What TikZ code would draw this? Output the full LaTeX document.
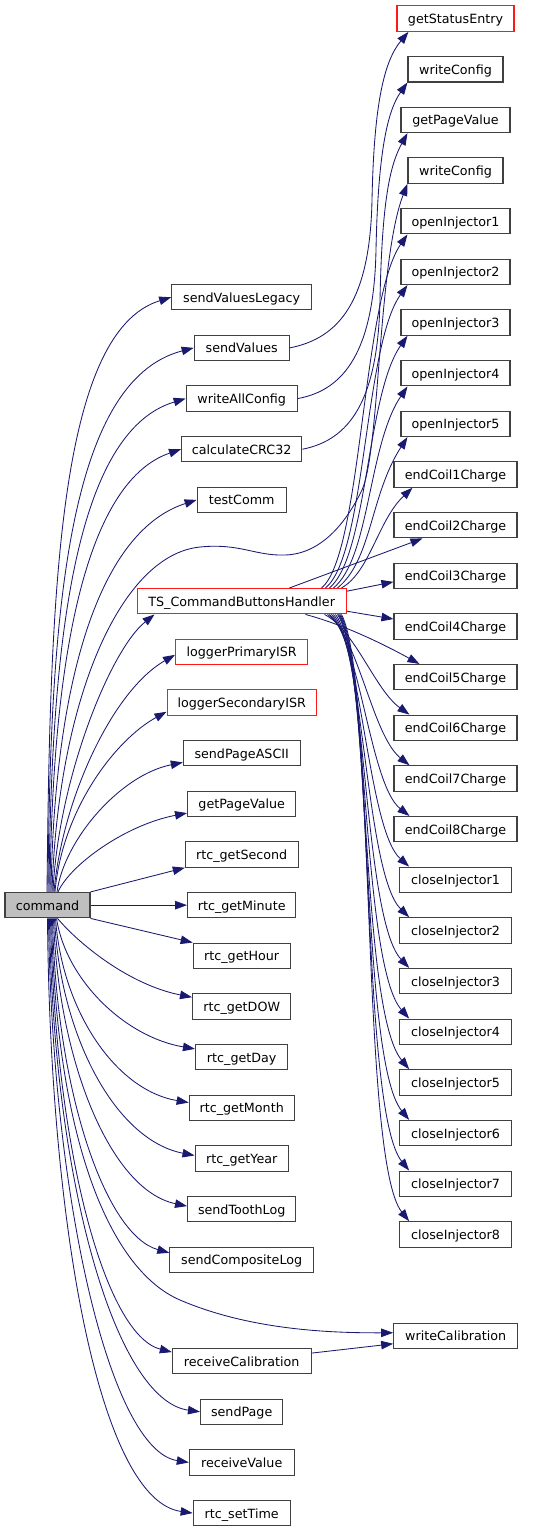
\documentclass[tikz,border=0pt]{standalone}
\usepackage{fontspec}
\setmainfont{DejaVu Sans}
\usetikzlibrary{arrows.meta}
\definecolor{navy}{HTML}{191970}
\definecolor{bdr}{HTML}{404040}
\definecolor{rootfill}{HTML}{BFBFBF}
\begin{document}
\begin{tikzpicture}[x=1pt,y=-1pt,
  fn/.style={draw=bdr, line width=1.1pt, fill=white, minimum height=25.4pt, inner sep=0pt,
    text height=12pt, text depth=2pt, font=\fontsize{12.7}{15}\selectfont},
  rn/.style={fn, draw=red!90!white},
  ed/.style={navy, line width=0.85pt, -{Triangle[length=12pt,width=8.5pt]}}]
\useasboundingbox (0,0) rectangle (533,1532);
% root
\node[fn, minimum width=85pt, fill=rootfill] (cmd) at (47.5,905.15) {command};
% right column
\node[rn, minimum width=117pt] (gse) at (455.5,18.6) {getStatusEntry};
\node[fn, minimum width=95pt] (wc1) at (455.5,69.26) {writeConfig};
\node[fn, minimum width=109pt] (gpvR) at (455.5,119.92) {getPageValue};
\node[fn, minimum width=95pt] (wc2) at (455.5,170.58) {writeConfig};
\node[fn, minimum width=109pt] (oi1) at (455.5,221.24) {openInjector1};
\node[fn, minimum width=109pt] (oi2) at (455.5,271.9) {openInjector2};
\node[fn, minimum width=109pt] (oi3) at (455.5,322.56) {openInjector3};
\node[fn, minimum width=109pt] (oi4) at (455.5,373.22) {openInjector4};
\node[fn, minimum width=109pt] (oi5) at (455.5,423.88) {openInjector5};
\node[fn, minimum width=123pt] (ec1) at (455.5,474.54) {endCoil1Charge};
\node[fn, minimum width=123pt] (ec2) at (455.5,525.2) {endCoil2Charge};
\node[fn, minimum width=123pt] (ec3) at (455.5,575.86) {endCoil3Charge};
\node[fn, minimum width=123pt] (ec4) at (455.5,626.52) {endCoil4Charge};
\node[fn, minimum width=123pt] (ec5) at (455.5,677.18) {endCoil5Charge};
\node[fn, minimum width=123pt] (ec6) at (455.5,727.84) {endCoil6Charge};
\node[fn, minimum width=123pt] (ec7) at (455.5,778.5) {endCoil7Charge};
\node[fn, minimum width=123pt] (ec8) at (455.5,829.16) {endCoil8Charge};
\node[fn, minimum width=111.6pt] (ci1) at (455.5,879.82) {closeInjector1};
\node[fn, minimum width=111.6pt] (ci2) at (455.5,930.48) {closeInjector2};
\node[fn, minimum width=111.6pt] (ci3) at (455.5,981.14) {closeInjector3};
\node[fn, minimum width=111.6pt] (ci4) at (455.5,1031.8) {closeInjector4};
\node[fn, minimum width=111.6pt] (ci5) at (455.5,1082.46) {closeInjector5};
\node[fn, minimum width=111.6pt] (ci6) at (455.5,1133.12) {closeInjector6};
\node[fn, minimum width=111.6pt] (ci7) at (455.5,1183.78) {closeInjector7};
\node[fn, minimum width=111.6pt] (ci8) at (455.5,1234.44) {closeInjector8};
\node[fn, minimum width=124pt] (wcal) at (455.7,1335.76) {writeCalibration};
% middle column
\node[fn, minimum width=140pt] (svl) at (241.7,297.23) {sendValuesLegacy};
\node[fn, minimum width=95pt] (sv) at (241.7,347.89) {sendValues};
\node[fn, minimum width=111pt] (wac) at (241.7,398.55) {writeAllConfig};
\node[fn, minimum width=120.3pt] (crc) at (241.7,449.21) {calculateCRC32};
\node[fn, minimum width=89pt] (tc) at (241.7,499.87) {testComm};
\node[rn, minimum width=209.3pt] (tsh) at (241.7,601.19) {TS\_CommandButtonsHandler};
\node[rn, minimum width=132.3pt] (lp) at (241.7,651.85) {loggerPrimaryISR};
\node[rn, minimum width=149.3pt] (ls) at (241.7,702.51) {loggerSecondaryISR};
\node[fn, minimum width=116.7pt] (spa) at (241.7,753.17) {sendPageASCII};
\node[fn, minimum width=108.3pt] (gpv) at (241.7,803.83) {getPageValue};
\node[fn, minimum width=112.7pt] (sec) at (241.7,854.49) {rtc\_getSecond};
\node[fn, minimum width=108.3pt] (min) at (241.7,905.15) {rtc\_getMinute};
\node[fn, minimum width=97pt] (hour) at (241.7,955.81) {rtc\_getHour};
\node[fn, minimum width=98.3pt] (dow) at (241.7,1006.47) {rtc\_getDOW};
\node[fn, minimum width=92.4pt] (day) at (241.7,1057.13) {rtc\_getDay};
\node[fn, minimum width=105pt] (month) at (241.7,1107.79) {rtc\_getMonth};
\node[fn, minimum width=93.3pt] (year) at (241.7,1158.45) {rtc\_getYear};
\node[fn, minimum width=108.3pt] (stl) at (241.7,1209.11) {sendToothLog};
\node[fn, minimum width=143.7pt] (scl) at (241.7,1259.77) {sendCompositeLog};
\node[fn, minimum width=138.7pt] (rc) at (241.7,1361.09) {receiveCalibration};
\node[fn, minimum width=82.4pt] (sp) at (241.7,1411.75) {sendPage};
\node[fn, minimum width=104.7pt] (rv) at (241.7,1462.41) {receiveValue};
\node[fn, minimum width=97pt] (st) at (241.7,1513.07) {rtc\_setTime};
% edges from command, upwards
\draw[ed] ([xshift=-0.5pt]cmd.north) .. controls (50,596) and (58,332) .. (svl.west);
\draw[ed] ([xshift=0.5pt]cmd.north) .. controls (50,621) and (66,381) .. (sv.west);
\draw[ed] ([xshift=1.5pt]cmd.north) .. controls (51,646) and (74,432) .. (wac.west);
\draw[ed] ([xshift=2.5pt]cmd.north) .. controls (52,671) and (82,483) .. (crc.west);
\draw[ed] ([xshift=3.5pt]cmd.north) .. controls (54,696) and (94,533) .. (tc.west);
\draw[ed] ([xshift=4.5pt]cmd.north) .. controls (58,700) and (120,555) .. (200,547)
  .. controls (240,543) and (255,556) .. (285,555)
  .. controls (320,554) and (345,525) .. (362,490)
  .. controls (380,450) and (378,260) .. (wc2.south west);
\draw[ed] ([xshift=5.5pt]cmd.north) .. controls (58,780) and (110,650) .. ([xshift=18pt]tsh.south west);
\draw[ed] ([xshift=6.5pt]cmd.north) .. controls (62,800) and (112,691) .. ([yshift=-3pt]lp.west);
\draw[ed] ([xshift=7.5pt]cmd.north) .. controls (62,810) and (115,740) .. ([yshift=4pt]ls.south west);
\draw[ed] ([xshift=9.5pt]cmd.north) .. controls (64,840) and (120,775) .. ([yshift=4pt]spa.south west);
\draw[ed] ([xshift=10.5pt]cmd.north) .. controls (70,865) and (125,825) .. ([yshift=4pt]gpv.south west);
\draw[ed] (cmd.north east) -- (sec.south west);
\draw[ed] (cmd.east) -- (min.west);
\draw[ed] (cmd.south east) -- (hour.north west);
% edges from command, downwards
\draw[ed] ([xshift=10pt]cmd.south) .. controls (80,945) and (130,985) .. ([yshift=-4pt]dow.north west);
\draw[ed] ([xshift=9pt]cmd.south) .. controls (66,980) and (125,1037) .. ([yshift=-5pt]day.north west);
\draw[ed] ([xshift=8pt]cmd.south) .. controls (62,1010) and (115,1090) .. ([yshift=-8pt]month.north west);
\draw[ed] ([xshift=7pt]cmd.south) .. controls (60,1035) and (115,1140) .. ([yshift=3pt]year.west);
\draw[ed] ([xshift=6pt]cmd.south) .. controls (58,1060) and (110,1190) .. ([yshift=3pt]stl.west);
\draw[ed] ([xshift=5pt]cmd.south) .. controls (56,1090) and (105,1235) .. ([yshift=7pt]scl.west);
\draw[ed] ([xshift=4pt]cmd.south) .. controls (56,1140) and (110,1270) .. (180,1300)
  .. controls (250,1330) and (330,1333) .. ([yshift=3pt]wcal.west);
\draw[ed] ([xshift=3pt]cmd.south) .. controls (55,1150) and (105,1335) .. ([yshift=9pt]rc.west);
\draw[ed] ([xshift=2pt]cmd.south) .. controls (53,1180) and (115,1400) .. (sp.west);
\draw[ed] ([xshift=1pt]cmd.south) .. controls (52,1200) and (110,1450) .. (rv.west);
\draw[ed] (cmd.south) .. controls (50,1230) and (100,1500) .. (st.west);
% second level
\draw[ed] ([yshift=8pt]rc.east) -- ([yshift=-8pt]wcal.west);
\draw[ed] (sv.east) .. controls (340,338) and (370,300) .. (372,200)
  .. controls (374,100) and (385,60) .. ([xshift=12pt]gse.south west);
\draw[ed] (wac.east) .. controls (345,390) and (374,350) .. (376,250)
  .. controls (378,150) and (388,110) .. (wc1.south west);
\draw[ed] (crc.east) .. controls (350,440) and (378,400) .. (380,300)
  .. controls (382,200) and (390,165) .. ([xshift=7pt]gpvR.south west);
% TS handler
\draw[ed] ([xshift=185pt]tsh.north west) .. controls (362,555) and (362,300) .. ([xshift=7pt]oi1.south west);
\draw[ed] ([xshift=189pt]tsh.north west) .. controls (366,555) and (364,345) .. ([xshift=7pt]oi2.south west);
\draw[ed] ([xshift=193pt]tsh.north west) .. controls (368,555) and (366,395) .. ([xshift=7pt]oi3.south west);
\draw[ed] ([xshift=197pt]tsh.north west) .. controls (370,558) and (368,445) .. ([xshift=7pt]oi4.south west);
\draw[ed] ([xshift=201pt]tsh.north west) .. controls (372,560) and (370,495) .. ([xshift=7pt]oi5.south west);
\draw[ed] ([xshift=205pt]tsh.north west) .. controls (370,572) and (378,520) .. ([xshift=19pt]ec1.south west);
\draw[ed] ([xshift=153pt]tsh.north west) -- ([xshift=29pt]ec2.south west);
\draw[ed] ([yshift=10pt]tsh.east) -- ([yshift=-6pt]ec3.west);
\draw[ed] ([yshift=-10pt]tsh.east) -- ([yshift=7.5pt]ec4.west);
\draw[ed] ([xshift=169pt]tsh.south west) .. controls (345,625) and (385,645) .. ([xshift=26pt]ec5.north west);
\draw[ed] ([xshift=188pt]tsh.south west) .. controls (355,630) and (375,690) .. ([xshift=16pt]ec6.north west);
\draw[ed] ([xshift=191pt]tsh.south west) .. controls (358,635) and (372,735) .. ([xshift=16pt]ec7.north west);
\draw[ed] ([xshift=193pt]tsh.south west) .. controls (360,640) and (370,785) .. ([xshift=16pt]ec8.north west);
\draw[ed] ([xshift=195pt]tsh.south west) .. controls (362,645) and (368,830) .. ([xshift=10pt]ci1.north west);
\draw[ed] ([xshift=197pt]tsh.south west) .. controls (364,650) and (366,875) .. ([xshift=10pt]ci2.north west);
\draw[ed] ([xshift=199pt]tsh.south west) .. controls (366,655) and (364,920) .. ([xshift=10pt]ci3.north west);
\draw[ed] ([xshift=201pt]tsh.south west) .. controls (368,660) and (362,965) .. ([xshift=10pt]ci4.north west);
\draw[ed] ([xshift=202pt]tsh.south west) .. controls (370,665) and (360,1010) .. ([xshift=10pt]ci5.north west);
\draw[ed] ([xshift=203pt]tsh.south west) .. controls (372,670) and (360,1060) .. ([xshift=10pt]ci6.north west);
\draw[ed] ([xshift=204pt]tsh.south west) .. controls (374,675) and (360,1110) .. ([xshift=10pt]ci7.north west);
\draw[ed] ([xshift=205pt]tsh.south west) .. controls (376,680) and (360,1160) .. ([xshift=10pt]ci8.north west);
\end{tikzpicture}
\end{document}
